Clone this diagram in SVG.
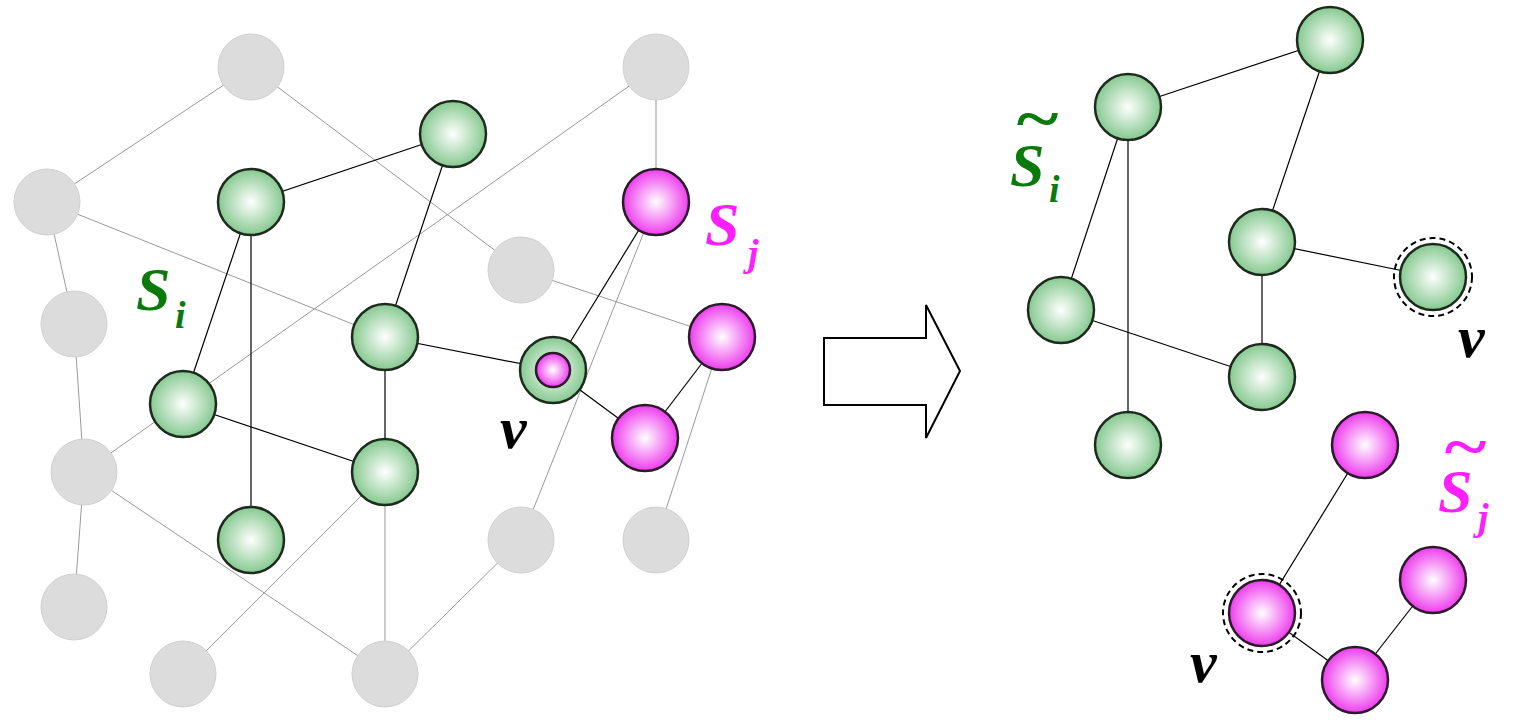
<svg xmlns="http://www.w3.org/2000/svg" width="1519" height="728" viewBox="0 0 1519 728">
<style>
.g{fill:url(#gg);stroke:#1e2a1e;stroke-width:2.5}
.p{fill:url(#pg);stroke:#2a1a2a;stroke-width:2.5}
.n{fill:#dcdcdc;stroke:#d0d0d0;stroke-width:1}
.eg{stroke:#999;stroke-width:1}
.eb{stroke:#000;stroke-width:1.2}
.d{fill:none;stroke:#000;stroke-width:2;stroke-dasharray:6,4}
.t{font-family:"Liberation Serif",serif;font-weight:bold;font-style:italic}
</style>
<defs>
<radialGradient id="gg" cx="0.5" cy="0.5" r="0.5"><stop offset="0" stop-color="#fff"/><stop offset="1" stop-color="#86c990"/></radialGradient>
<radialGradient id="pg" cx="0.5" cy="0.5" r="0.5"><stop offset="0" stop-color="#fff"/><stop offset="1" stop-color="#ee3cee"/></radialGradient>
</defs>
<rect width="1519" height="728" fill="#fff"/>
<g id="connectors">
<line class="eg" x1="251" y1="67" x2="47" y2="202"/>
<line class="eg" x1="251" y1="67" x2="521" y2="270"/>
<line class="eg" x1="656" y1="67" x2="656" y2="202"/>
<line class="eg" x1="656" y1="67" x2="84" y2="472"/>
<line class="eg" x1="47" y1="202" x2="385" y2="337"/>
<line class="eg" x1="47" y1="202" x2="74" y2="324"/>
<line class="eg" x1="74" y1="324" x2="84" y2="472"/>
<line class="eg" x1="84" y1="472" x2="74" y2="607"/>
<line class="eg" x1="84" y1="472" x2="385" y2="674"/>
<line class="eg" x1="521" y1="270" x2="722" y2="337"/>
<line class="eg" x1="656" y1="202" x2="521" y2="540"/>
<line class="eg" x1="722" y1="337" x2="656" y2="540"/>
<line class="eg" x1="521" y1="540" x2="385" y2="674"/>
<line class="eg" x1="385" y1="472" x2="183" y2="674"/>
<line class="eg" x1="385" y1="472" x2="385" y2="674"/>
<line class="eb" x1="251" y1="202" x2="453" y2="134"/>
<line class="eb" x1="251" y1="202" x2="183" y2="404"/>
<line class="eb" x1="251" y1="202" x2="251" y2="540"/>
<line class="eb" x1="453" y1="134" x2="385" y2="337"/>
<line class="eb" x1="385" y1="337" x2="553" y2="370"/>
<line class="eb" x1="385" y1="337" x2="385" y2="472"/>
<line class="eb" x1="183" y1="404" x2="385" y2="472"/>
<line class="eb" x1="553" y1="370" x2="656" y2="202"/>
<line class="eb" x1="553" y1="370" x2="645" y2="438"/>
<line class="eb" x1="645" y1="438" x2="722" y2="337"/>
<line class="eb" x1="1128" y1="107" x2="1330" y2="40"/>
<line class="eb" x1="1330" y1="40" x2="1262" y2="242"/>
<line class="eb" x1="1128" y1="107" x2="1061" y2="310"/>
<line class="eb" x1="1128" y1="107" x2="1128" y2="445"/>
<line class="eb" x1="1061" y1="310" x2="1262" y2="377"/>
<line class="eb" x1="1262" y1="242" x2="1262" y2="377"/>
<line class="eb" x1="1262" y1="242" x2="1433" y2="277"/>
<line class="eb" x1="1365" y1="445" x2="1262" y2="613"/>
<line class="eb" x1="1262" y1="613" x2="1355" y2="680"/>
<line class="eb" x1="1355" y1="680" x2="1433" y2="580"/>
</g>
<g id="gray">
<circle class="n" cx="251" cy="67" r="33"/><circle class="n" cx="656" cy="67" r="33"/>
<circle class="n" cx="47" cy="202" r="33"/><circle class="n" cx="521" cy="270" r="33"/>
<circle class="n" cx="74" cy="324" r="33"/><circle class="n" cx="84" cy="472" r="33"/>
<circle class="n" cx="74" cy="607" r="33"/><circle class="n" cx="183" cy="674" r="33"/>
<circle class="n" cx="385" cy="674" r="33"/><circle class="n" cx="521" cy="540" r="33"/>
<circle class="n" cx="656" cy="540" r="33"/>
</g>
<g id="left-green">
<circle class="g" cx="453" cy="134" r="33"/><circle class="g" cx="251" cy="202" r="33"/>
<circle class="g" cx="385" cy="337" r="33"/><circle class="g" cx="183" cy="404" r="33"/>
<circle class="g" cx="385" cy="472" r="33"/><circle class="g" cx="251" cy="540" r="33"/>
</g>
<g id="v-left"><circle class="g" cx="553" cy="370" r="33" stroke-width="3"/><circle class="p" cx="553" cy="370" r="17" stroke-width="3"/></g>
<g id="left-pink">
<circle class="p" cx="656" cy="202" r="33"/><circle class="p" cx="722" cy="337" r="33"/><circle class="p" cx="645" cy="438" r="33"/>
</g>
<g id="right-green">
<circle class="g" cx="1330" cy="40" r="33"/><circle class="g" cx="1128" cy="107" r="33"/>
<circle class="g" cx="1262" cy="242" r="33"/><circle class="g" cx="1061" cy="310" r="33"/>
<circle class="g" cx="1262" cy="377" r="33"/><circle class="g" cx="1128" cy="445" r="33"/>
<circle class="g" cx="1433" cy="277" r="33"/><circle class="d" cx="1433" cy="277" r="39"/>
</g>
<g id="right-pink">
<circle class="p" cx="1365" cy="445" r="33"/><circle class="p" cx="1433" cy="580" r="33"/>
<circle class="p" cx="1355" cy="680" r="33"/>
<circle class="p" cx="1262" cy="613" r="33"/><circle class="d" cx="1262" cy="613" r="39"/>
</g>
<g id="arrow"><path d="M824,338 H926 V305 L960,371 L926,438 V405 H824 Z" fill="#fff" stroke="#000" stroke-width="2"/></g>
<g id="labels" class="t">
<text x="136" y="310" font-size="62" fill="#0a7a0a">S</text><text x="175" y="328" font-size="38" fill="#0a7a0a">i</text>
<text x="705" y="245" font-size="62" fill="#ff1eff">S</text><text x="748" y="266" font-size="38" fill="#ff1eff">j</text>
<text x="500" y="448" font-size="60" fill="#000">v</text>
<text x="1458" y="357" font-size="60" fill="#000">v</text>
<text x="1190" y="682" font-size="60" fill="#000">v</text>
<text x="1010" y="186" font-size="62" fill="#0a7a0a">S</text><text x="1049" y="202" font-size="38" fill="#0a7a0a">i</text>
<text x="1438" y="512" font-size="62" fill="#ff1eff">S</text><text x="1478" y="530" font-size="38" fill="#ff1eff">j</text>
<text x="1014" y="142" font-size="80" fill="#0a7a0a" transform="translate(1014 130) scale(1 0.8) translate(-1014 -130)">~</text>
<text x="1442" y="470" font-size="80" fill="#ff1eff" transform="translate(1442 458) scale(1 0.8) translate(-1442 -458)">~</text>
</g>
</svg>
